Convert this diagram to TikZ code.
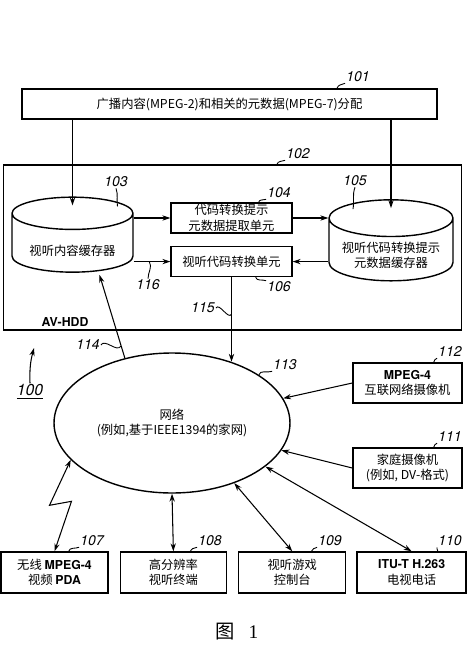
\documentclass[tikz,border=0pt]{standalone}
\usepackage{fontspec}
\setmainfont{Noto Sans CJK SC}
\newfontfamily\heros{TeX Gyre Heros}
\newfontfamily\numserif{Liberation Serif}
\usetikzlibrary{shapes.geometric, arrows.meta, positioning, calc}
\tikzset{
    unitbox/.style={
        rectangle,
        draw=black,
        line width=0.8pt,
        minimum width=2.14cm,
        minimum height=0.82cm,
        align=center,
        inner sep=1pt,
        fill=white,
        font=\fontsize{7}{8.8}\selectfont
    },
    store/.style={
        cylinder,
        shape border rotate=90,
        aspect=0.36,
        draw=black,
        line width=0.8pt,
        minimum width=2.42cm,
        minimum height=1.5cm,
        align=center,
        inner sep=1pt,
        font=\fontsize{7}{8.8}\selectfont
    },
    cloud/.style={
        ellipse,
        draw=black,
        line width=0.8pt,
        minimum width=4.72cm,
        minimum height=2.8cm,
        inner sep=0pt,
        align=center,
        font=\fontsize{7}{8.8}\selectfont
    },
    refnum/.style={
        font=\heros\itshape\fontsize{8}{9}\selectfont,
        inner sep=0.5pt
    },
    tag/.style={
        font=\heros\bfseries\fontsize{7}{8}\selectfont
    },
    leader/.style={
        draw=black,
        line width=0.5pt
    },
    link/.style={
        draw=black,
        line width=0.6pt,
        -{Stealth[length=4.5pt,width=3pt]}
    },
    duplex/.style={
        draw=black,
        line width=0.6pt,
        {Stealth[length=4.5pt,width=3pt]}-{Stealth[length=4.5pt,width=3pt]}
    }
}

\begin{document}
\begin{tikzpicture}[x=0.02cm, y=-0.02cm]

\useasboundingbox (0,0) rectangle (474,650);

% distribution and AV-HDD
\node[unitbox, minimum width=8.3cm, minimum height=0.6cm] (dist101) at (229.5,104) {广播内容(MPEG-2)和相关的元数据(MPEG-7)分配};
\node[rectangle, draw=black, line width=0.9pt, minimum width=9.16cm, minimum height=3.3cm] (hdd102) at (232.5,247.5) {};
\node[tag] (avhdd) at (65,322) {AV-HDD};

\node[store] (cache103) at (72.5,245) {\rule{0pt}{13pt}视听内容缓存器};
\node[store, minimum width=2.48cm, minimum height=1.62cm] (meta105) at (391,252) {\raisebox{-4.5pt}[0pt][0pt]{\begin{tabular}{@{}c@{}}视听代码转换提示\\元数据缓存器\end{tabular}}};
\node[unitbox, minimum width=2.42cm, minimum height=0.6cm] (extract104) at (231.5,218) {代码转换提示\\元数据提取单元};
\node[unitbox, minimum width=2.42cm, minimum height=0.6cm, below=0.24cm of extract104] (transcode106) {视听代码转换单元};

% network and terminals
\node[cloud] (net113) at (172,423) {网络\\(例如,基于IEEE1394的家网)};
\node[unitbox, minimum width=2.18cm, minimum height=0.8cm] (webcam112) at (407.5,383) {{\heros\bfseries MPEG-4}\\互联网络摄像机};
\node[unitbox, minimum width=2.18cm, minimum height=0.8cm] (camcorder111) at (407.5,468) {家庭摄像机\\(例如, DV-格式)};

\node[unitbox] (pda107) at (54.5,572.5) {无线 {\heros\bfseries MPEG-4}\\视频 {\heros\bfseries PDA}};
\node[unitbox, right=0.22cm of pda107, minimum width=2.12cm] (hdtv108) {高分辨率\\视听终端};
\node[unitbox, right=0.22cm of hdtv108] (game109) {视听游戏\\控制台};
\node[unitbox, right=0.2cm of game109, minimum width=2.18cm] (phone110) {{\heros\bfseries ITU-T H.263}\\电视电话};

\draw[link] (dist101.south -| cache103.north) -- ($(cache103.north)+(0,9)$);
\draw[link] (dist101.south -| meta105.north) -- ($(meta105.north)+(0,9)$);
\draw[link] (extract104.west -| cache103.east) -- (extract104.west);
\draw[link] (extract104.east) -- (extract104.east -| meta105.west);
\draw[link] (transcode106.west -| cache103.east) -- (transcode106.west);
\draw[link] (transcode106.east -| meta105.west) -- (transcode106.east);
\draw[link] (transcode106.south) -- (transcode106.south |- net113.46);
\draw[link] (net113.126) -- ($(cache103.south)+(27,2)$);
\draw[link] (webcam112.west) -- (net113);
\draw[link] (camcorder111.west) -- (net113);
\draw[duplex] (pda107.north) -- ++(17,-50) -- ++(-22,4) -- (net113.200);
\draw[duplex] (hdtv108.north) -- (net113.south);
\draw[duplex] (game109.north) -- (net113.-44);
\draw[duplex] (phone110.north) -- (net113.-25);

% reference numerals
\node[refnum] (lbl101) at (358,77) {101};
\node[refnum] (lbl102) at (298,154) {102};
\node[refnum] (lbl103) at (116,182) {103};
\node[refnum] (lbl104) at (279,193) {104};
\node[refnum] (lbl105) at (355,181) {105};
\node[refnum] (lbl106) at (279,287) {106};
\node[refnum] (lbl116) at (148,285) {116};
\node[refnum] (lbl115) at (203,308) {115};
\node[refnum] (lbl114) at (88,345) {114};
\node[refnum] (lbl113) at (285,365) {113};
\node[refnum] (lbl112) at (450,352) {112};
\node[refnum] (lbl111) at (450,437) {111};
\node[refnum] (lbl107) at (92,541) {107};
\node[refnum] (lbl108) at (210,541) {108};
\node[refnum] (lbl109) at (330,541) {109};
\node[refnum] (lbl110) at (450,541) {110};
\node[refnum, font=\heros\itshape\fontsize{9}{10}\selectfont] (lbl100) at (30,392) {\underline{100}};
\coordinate (sys100) at (34,348);

\draw[leader] ($(dist101.north -| lbl101.west)+(-8,0)$) to[out=75,in=200] (lbl101.south west);
\draw[leader] ($(hdd102.north -| lbl102.west)+(-8,0)$) to[out=75,in=200] (lbl102.south west);
\draw[leader] (lbl103.south) to[out=-70,in=100] ($(cache103.north)+(45,10)$);
\draw[leader] ($(extract104.north east)+(-34,0)$) to[out=75,in=200] (lbl104.south west);
\draw[leader] (lbl105.south) to[out=-110,in=80] ($(meta105.north)+(-38,10)$);
\draw[leader] ($(transcode106.south east)+(-37,0)$) to[out=-75,in=160] (lbl106.north west);
\draw[leader] ($(transcode106.west)+(-21,0)$) to[out=-60,in=90] (lbl116.north);
\draw[leader] (lbl115.east) to[out=60,in=240] ($(transcode106.south)+(0,37)$);
\draw[leader] (lbl114.east) to[out=60,in=240] ($(net113.126)+(-4,-12)$);
\draw[leader] (net113.29) to[out=75,in=200] (lbl113.south west);
\draw[leader] ($(webcam112.north east)+(-29,0)$) to[out=75,in=200] (lbl112.south west);
\draw[leader] ($(camcorder111.north east)+(-29,0)$) to[out=75,in=200] (lbl111.south west);
\draw[leader] ($(pda107.north east)+(-40,0)$) to[out=75,in=200] (lbl107.south west);
\draw[leader] ($(hdtv108.north east)+(-37,0)$) to[out=75,in=200] (lbl108.south west);
\draw[leader] ($(game109.north east)+(-35,0)$) to[out=75,in=200] (lbl109.south west);
\draw[leader] ($(phone110.north east)+(-29,0)$) to[out=75,in=200] (lbl110.south west);
\draw[link] (lbl100.north) to[out=92,in=255] (sys100);

\node[font=\fontsize{11}{13}\selectfont] (fig1) at (237,632) {图\hspace{0.7em}{\numserif 1}};

\end{tikzpicture}
\end{document}
